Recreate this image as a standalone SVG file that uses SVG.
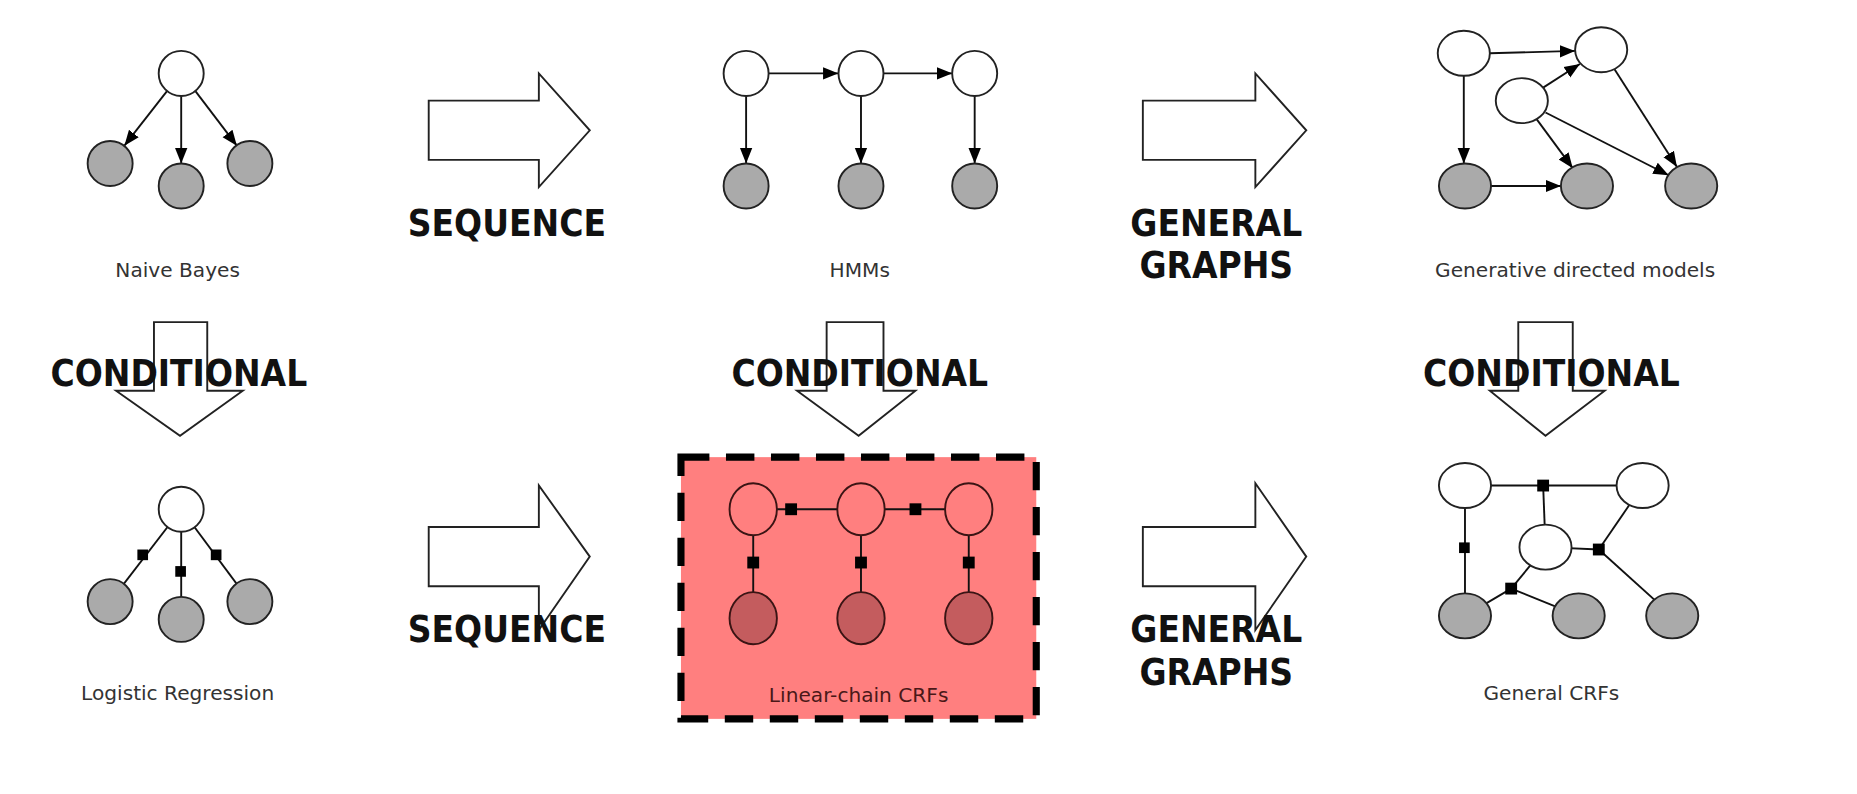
<svg xmlns="http://www.w3.org/2000/svg" width="1857" height="794" viewBox="0 0 1857 794">
<defs>
<marker id="ah" viewBox="0 0 10 10" refX="10" refY="5" markerWidth="9" markerHeight="9" markerUnits="userSpaceOnUse" orient="auto"><path d="M0,0 L10,5 L0,10 z" fill="#000"/></marker>
<marker id="ah2" viewBox="0 0 10 10" refX="10" refY="5" markerWidth="13" markerHeight="13" markerUnits="userSpaceOnUse" orient="auto"><path d="M0,1 L10,5 L0,9 z" fill="#000"/></marker>
</defs>
<style>
.w{fill:#fff;stroke:#222;stroke-width:1.6}
.g{fill:#aaa;stroke:#222;stroke-width:1.6}
.r{fill:#ff7f7f;stroke:#3a1414;stroke-width:1.6}
.rd{fill:#c45c5e;stroke:#3a1414;stroke-width:1.6}
.e{stroke:#111;stroke-width:1.6;fill:none}
.ea{stroke:#111;stroke-width:1.6;fill:none;marker-end:url(#ah2)}
.f{fill:#000}
.big{fill:#fff;stroke:#222;stroke-width:1.6}
.lab{font-family:"DejaVu Sans",Verdana,sans-serif;font-size:17px;fill:#333;text-anchor:middle}
.op{font-family:"DejaVu Sans Condensed","Liberation Sans Narrow",sans-serif;font-weight:bold;font-size:31px;fill:#111;text-anchor:middle}
</style>
<rect width="1857" height="794" fill="#fff"/>
<g transform="scale(1.1843)">
<g id="connectors">
<!-- Naive Bayes -->
<line class="ea" x1="141" y1="77" x2="105" y2="123"/>
<line class="ea" x1="153" y1="81" x2="153" y2="138"/>
<line class="ea" x1="165" y1="77" x2="200" y2="123"/>
<!-- HMM -->
<line class="ea" x1="649" y1="62" x2="708" y2="62"/>
<line class="ea" x1="746" y1="62" x2="804" y2="62"/>
<line class="ea" x1="630" y1="81" x2="630" y2="138"/>
<line class="ea" x1="727" y1="81" x2="727" y2="138"/>
<line class="ea" x1="823" y1="81" x2="823" y2="138"/>
<!-- Generative -->
<line class="ea" x1="1258" y1="45" x2="1330" y2="43"/>
<line class="ea" x1="1303" y1="74" x2="1334" y2="54"/>
<line class="ea" x1="1236" y1="64" x2="1236" y2="138"/>
<line class="ea" x1="1297" y1="100" x2="1328" y2="142"/>
<line class="ea" x1="1305" y1="95" x2="1409" y2="148"/>
<line class="ea" x1="1363" y1="58" x2="1416" y2="141"/>
<line class="ea" x1="1258" y1="157" x2="1318" y2="157"/>
<!-- Logistic -->
<line class="e" x1="153" y1="430" x2="93" y2="508"/>
<line class="e" x1="153" y1="430" x2="153" y2="523"/>
<line class="e" x1="153" y1="430" x2="211" y2="508"/>
<!-- Linear-chain -->
<line class="e" x1="636" y1="430" x2="818" y2="430"/>
<line class="e" x1="636" y1="430" x2="636" y2="522"/>
<line class="e" x1="727" y1="430" x2="727" y2="522"/>
<line class="e" x1="818" y1="430" x2="818" y2="522"/>
<!-- General CRF -->
<line class="e" x1="1237" y1="410" x2="1387" y2="410"/>
<line class="e" x1="1237" y1="410" x2="1237" y2="520"/>
<line class="e" x1="1303" y1="410" x2="1305" y2="462"/>
<line class="e" x1="1305" y1="462" x2="1350" y2="464"/>
<line class="e" x1="1387" y1="410" x2="1350" y2="464"/>
<line class="e" x1="1350" y1="464" x2="1412" y2="520"/>
<line class="e" x1="1305" y1="462" x2="1276" y2="497"/>
<line class="e" x1="1237" y1="520" x2="1276" y2="497"/>
<line class="e" x1="1276" y1="497" x2="1333" y2="520"/>
</g>
<g id="naive-bayes">
<circle class="w" cx="153" cy="62" r="19"/>
<circle class="g" cx="93" cy="138" r="19"/>
<circle class="g" cx="153" cy="157" r="19"/>
<circle class="g" cx="211" cy="138" r="19"/>
<text class="lab" x="150" y="234">Naive Bayes</text>
</g>
<g id="seq-arrow-1">
<path class="big" d="M362,85 H455 V62 L498,110 L455,158 V135 H362 Z"/>
<text class="op" x="428" y="199">SEQUENCE</text>
</g>
<g id="hmms">
<circle class="w" cx="630" cy="62" r="19"/>
<circle class="w" cx="727" cy="62" r="19"/>
<circle class="w" cx="823" cy="62" r="19"/>
<circle class="g" cx="630" cy="157" r="19"/>
<circle class="g" cx="727" cy="157" r="19"/>
<circle class="g" cx="823" cy="157" r="19"/>
<text class="lab" x="726" y="234">HMMs</text>
</g>
<g id="gg-arrow-1">
<path class="big" d="M965,85 H1060 V62 L1103,110 L1060,158 V135 H965 Z"/>
<text class="op" x="1027" y="199">GENERAL</text>
<text class="op" x="1027" y="235">GRAPHS</text>
</g>
<g id="generative">
<ellipse class="w" cx="1236" cy="45" rx="22" ry="19"/>
<ellipse class="w" cx="1352" cy="42" rx="22" ry="19"/>
<ellipse class="w" cx="1285" cy="85" rx="22" ry="19"/>
<ellipse class="g" cx="1237" cy="157" rx="22" ry="19"/>
<ellipse class="g" cx="1340" cy="157" rx="22" ry="19"/>
<ellipse class="g" cx="1428" cy="157" rx="22" ry="19"/>
<text class="lab" x="1330" y="234">Generative directed models</text>
</g>
<g id="cond-1">
<path class="big" d="M130,272 H175 V330 H205 L152,368 L98,330 H130 Z"/>
<text class="op" x="151" y="326">CONDITIONAL</text>
</g>
<g id="cond-2">
<path class="big" d="M698,272 H746 V330 H773 L725,368 L673,330 H698 Z"/>
<text class="op" x="726" y="326">CONDITIONAL</text>
</g>
<g id="cond-3">
<path class="big" d="M1282,272 H1328 V330 H1355 L1305,368 L1258,330 H1282 Z"/>
<text class="op" x="1310" y="326">CONDITIONAL</text>
</g>
<g id="logistic">
<circle class="w" cx="153" cy="430" r="19"/>
<circle class="g" cx="93" cy="508" r="19"/>
<circle class="g" cx="153" cy="523" r="19"/>
<circle class="g" cx="211" cy="508" r="19"/>
<rect class="f" x="116" y="464" width="9" height="9"/>
<rect class="f" x="148" y="478" width="9" height="9"/>
<rect class="f" x="178" y="464" width="9" height="9"/>
<text class="lab" x="150" y="591">Logistic Regression</text>
</g>
<g id="seq-arrow-2">
<path class="big" d="M362,445 H455 V410 L498,470 L455,532 V495 H362 Z"/>
<text class="op" x="428" y="542">SEQUENCE</text>
</g>
<g id="linear-chain">
<rect x="575" y="386" width="300" height="221" fill="#ff7f7f" stroke="#000" stroke-width="6" stroke-dasharray="24,14"/>
<line class="e" x1="636" y1="430" x2="818" y2="430"/>
<line class="e" x1="636" y1="430" x2="636" y2="522"/>
<line class="e" x1="727" y1="430" x2="727" y2="522"/>
<line class="e" x1="818" y1="430" x2="818" y2="522"/>
<ellipse class="r" cx="636" cy="430" rx="20" ry="22"/>
<ellipse class="r" cx="727" cy="430" rx="20" ry="22"/>
<ellipse class="r" cx="818" cy="430" rx="20" ry="22"/>
<ellipse class="rd" cx="636" cy="522" rx="20" ry="22"/>
<ellipse class="rd" cx="727" cy="522" rx="20" ry="22"/>
<ellipse class="rd" cx="818" cy="522" rx="20" ry="22"/>
<rect class="f" x="663" y="425" width="10" height="10"/>
<rect class="f" x="768" y="425" width="10" height="10"/>
<rect class="f" x="631" y="470" width="10" height="10"/>
<rect class="f" x="722" y="470" width="10" height="10"/>
<rect class="f" x="813" y="470" width="10" height="10"/>
<text class="lab" x="725" y="593" style="fill:#4a1818">Linear-chain CRFs</text>
</g>
<g id="gg-arrow-2">
<path class="big" d="M965,445 H1060 V408 L1103,470 L1060,532 V495 H965 Z"/>
<text class="op" x="1027" y="542">GENERAL</text>
<text class="op" x="1027" y="578">GRAPHS</text>
</g>
<g id="general-crf">
<ellipse class="w" cx="1237" cy="410" rx="22" ry="19"/>
<ellipse class="w" cx="1387" cy="410" rx="22" ry="19"/>
<ellipse class="w" cx="1305" cy="462" rx="22" ry="19"/>
<ellipse class="g" cx="1237" cy="520" rx="22" ry="19"/>
<ellipse class="g" cx="1333" cy="520" rx="22" ry="19"/>
<ellipse class="g" cx="1412" cy="520" rx="22" ry="19"/>
<rect class="f" x="1298" y="405" width="10" height="10"/>
<rect class="f" x="1232" y="458" width="9" height="9"/>
<rect class="f" x="1345" y="459" width="10" height="10"/>
<rect class="f" x="1271" y="492" width="10" height="10"/>
<text class="lab" x="1310" y="591">General CRFs</text>
</g>
</g>
</svg>
